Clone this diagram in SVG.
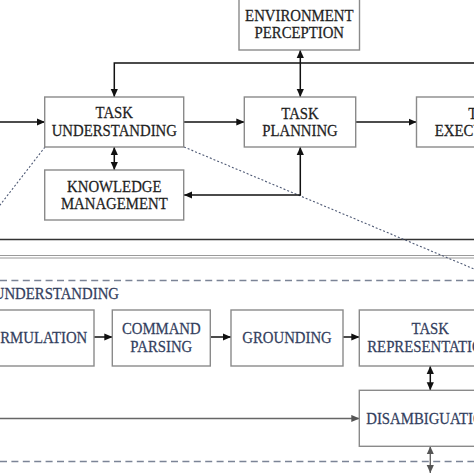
<svg xmlns="http://www.w3.org/2000/svg" width="474" height="474" viewBox="0 0 474 474">
<defs>
<marker id="ah" viewBox="0 0 10 10" refX="10" refY="5" markerWidth="8" markerHeight="8" markerUnits="userSpaceOnUse" orient="auto-start-reverse"><path d="M0,0.5 L10,5 L0,9.5 z" fill="#111"/></marker>
<marker id="ahg" viewBox="0 0 10 10" refX="10" refY="5" markerWidth="8" markerHeight="8" markerUnits="userSpaceOnUse" orient="auto-start-reverse"><path d="M0,0.5 L10,5 L0,9.5 z" fill="#555"/></marker>
<style>
.box{fill:#fff;stroke:#8a8a8a;stroke-width:1.4}
.t{font-family:"Liberation Serif","Times New Roman",serif;font-size:17px;fill:#1e1e1e;stroke:#1e1e1e;stroke-width:0.25;text-anchor:middle}
.b{fill:#33405e;stroke:#33405e}
.s{text-anchor:start}
.e{text-anchor:end}
.c{fill:none;stroke:#111;stroke-width:1.5}
.cg{fill:none;stroke:#666;stroke-width:1.4}
.dot{fill:none;stroke:#4f5a75;stroke-width:1.1;stroke-dasharray:2 2}
.dash{fill:none;stroke:#7b8496;stroke-width:1.6;stroke-dasharray:7 4.4}
</style>
</defs>
<rect width="474" height="474" fill="#fff"/>

<g id="separators">
<line x1="0" y1="239.5" x2="474" y2="239.5" stroke="#333" stroke-width="1.5"/>
<line x1="0" y1="255.5" x2="474" y2="255.5" stroke="#9a9a9a" stroke-width="1"/>
<line x1="0" y1="258" x2="474" y2="258" stroke="#9a9a9a" stroke-width="1"/>
<line class="dash" x1="0" y1="280.5" x2="474" y2="280.5"/>
<line class="dash" x1="0" y1="461.5" x2="474" y2="461.5"/>
<line class="dot" x1="45" y1="147" x2="-10" y2="218"/>
<line class="dot" x1="184" y1="147" x2="480" y2="271.5"/>
</g>

<g id="connectors">
<line class="c" x1="0" y1="122" x2="45" y2="122" marker-end="url(#ah)"/>
<line class="c" x1="184" y1="122" x2="244.3" y2="122" marker-end="url(#ah)"/>
<line class="c" x1="355.7" y1="122" x2="416.5" y2="122" marker-end="url(#ah)"/>
<polyline class="c" points="474,63 114.3,63 114.3,97" marker-end="url(#ah)"/>
<line class="c" x1="300.3" y1="50" x2="300.3" y2="97" marker-start="url(#ah)" marker-end="url(#ah)"/>
<line class="c" x1="114.3" y1="147" x2="114.3" y2="170" marker-start="url(#ah)" marker-end="url(#ah)"/>
<polyline class="c" points="184,195 300.3,195 300.3,147" marker-start="url(#ah)" marker-end="url(#ah)"/>
<line class="c" x1="94" y1="337" x2="112.3" y2="337" marker-end="url(#ah)"/>
<line class="c" x1="210.3" y1="337" x2="231" y2="337" marker-end="url(#ah)"/>
<line class="c" x1="343" y1="337" x2="359.3" y2="337" marker-end="url(#ah)"/>
<line class="c" x1="430.3" y1="366" x2="430.3" y2="390.3" marker-start="url(#ah)" marker-end="url(#ah)"/>
<line class="cg" x1="0" y1="418.5" x2="359.3" y2="418.5" marker-end="url(#ahg)"/>
<line class="cg" x1="430.3" y1="446.3" x2="430.3" y2="473" marker-start="url(#ahg)" marker-end="url(#ahg)"/>
</g>

<g id="environment-perception">
<rect class="box" x="239" y="-5" width="120.5" height="55"/>
<text class="t" transform="translate(299.3,21) scale(0.87,1)">ENVIRONMENT</text>
<text class="t" transform="translate(299.3,38.3) scale(0.87,1)">PERCEPTION</text>
</g>
<g id="task-understanding">
<rect class="box" x="44.7" y="97" width="139" height="50"/>
<text class="t" transform="translate(114.3,118.3) scale(0.87,1)">TASK</text>
<text class="t" transform="translate(114.3,135.5) scale(0.87,1)">UNDERSTANDING</text>
</g>
<g id="task-planning">
<rect class="box" x="244.3" y="97" width="111.4" height="50"/>
<text class="t" transform="translate(300,118.5) scale(0.87,1)">TASK</text>
<text class="t" transform="translate(300,135.5) scale(0.87,1)">PLANNING</text>
</g>
<g id="task-execution">
<rect class="box" x="416.5" y="97" width="140" height="50"/>
<text class="t s" transform="translate(468.3,118.5) scale(0.87,1)">TASK</text>
<text class="t s" transform="translate(434.7,135.5) scale(0.87,1)">EXECUTION</text>
</g>
<g id="knowledge-management">
<rect class="box" x="44.7" y="170" width="139" height="50"/>
<text class="t" transform="translate(114.3,191.5) scale(0.87,1)">KNOWLEDGE</text>
<text class="t" transform="translate(114.3,209.3) scale(0.87,1)">MANAGEMENT</text>
</g>

<g id="understanding-label">
<text class="t b e" transform="translate(119,298.5) scale(0.87,1)">UNDERSTANDING</text>
</g>
<g id="formulation">
<rect class="box" x="-30" y="310" width="124" height="56"/>
<text class="t b e" transform="translate(87.3,343) scale(0.87,1)">RMULATION</text>
</g>
<g id="command-parsing">
<rect class="box" x="112.3" y="310" width="98" height="56"/>
<text class="t b" transform="translate(161.3,334.3) scale(0.87,1)">COMMAND</text>
<text class="t b" transform="translate(161.3,352) scale(0.87,1)">PARSING</text>
</g>
<g id="grounding">
<rect class="box" x="231" y="310" width="112" height="56"/>
<text class="t b" transform="translate(287,343) scale(0.87,1)">GROUNDING</text>
</g>
<g id="task-representation">
<rect class="box" x="359.3" y="310" width="142" height="56"/>
<text class="t b" transform="translate(430.3,334.3) scale(0.87,1)">TASK</text>
<text class="t b" transform="translate(430.3,352) scale(0.87,1)">REPRESENTATION</text>
</g>
<g id="disambiguation">
<rect class="box" x="359.3" y="390.3" width="142" height="56"/>
<text class="t b" transform="translate(430.3,424.3) scale(0.87,1)">DISAMBIGUATION</text>
</g>
</svg>
